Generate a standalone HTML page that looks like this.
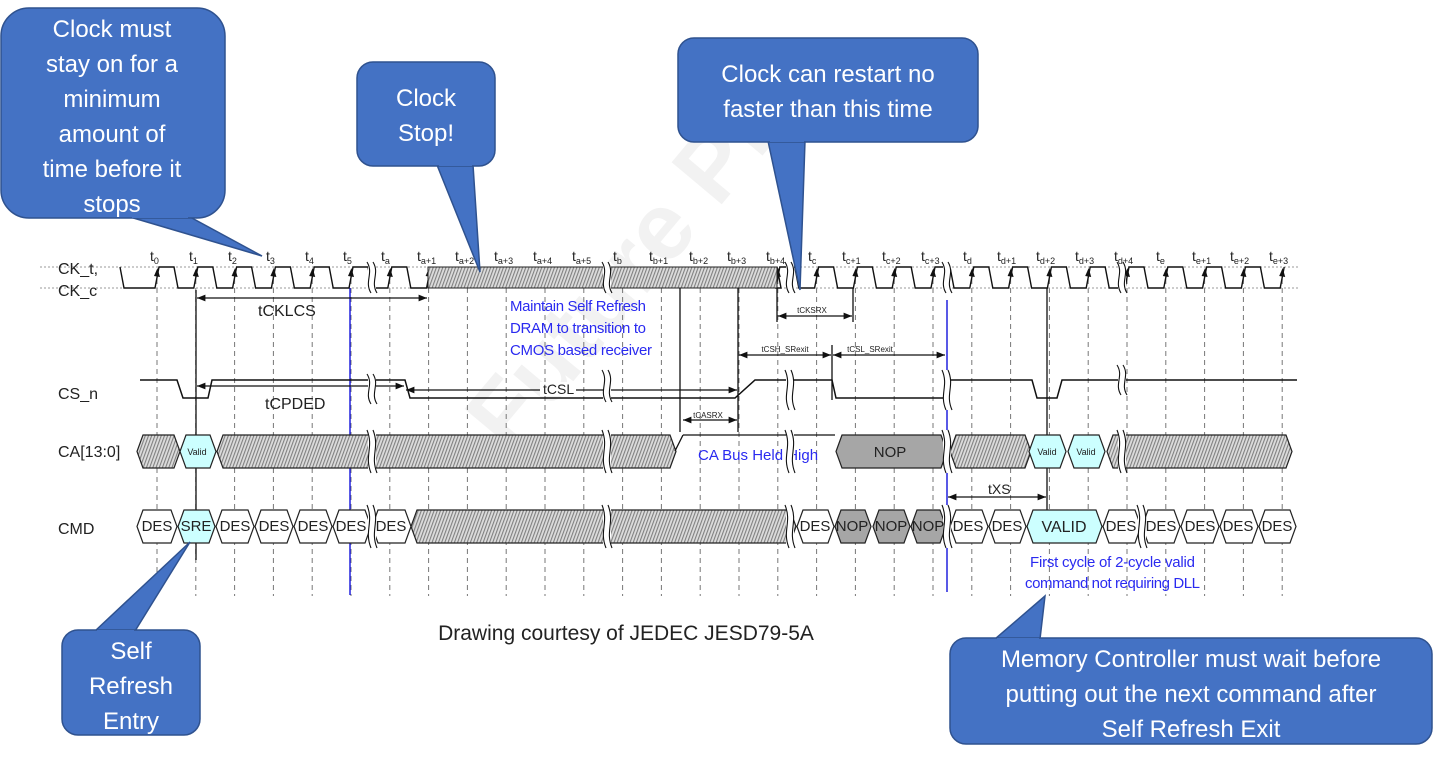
<!DOCTYPE html>
<html><head><meta charset="utf-8"><style>
html,body{margin:0;padding:0;background:#fff;}
svg{display:block;}
.lbl{font-family:"Liberation Sans",sans-serif;font-size:16px;fill:#222;}
.tl{font-family:"Liberation Sans",sans-serif;font-size:14px;fill:#222;}
.cw{font-family:"Liberation Sans",sans-serif;font-size:24px;fill:#fff;text-anchor:middle;}
.bl{font-family:"Liberation Sans",sans-serif;font-size:15px;fill:#2a2af0;}
.hx{font-family:"Liberation Sans",sans-serif;font-size:15px;fill:#222;text-anchor:middle;}
.sm{font-family:"Liberation Sans",sans-serif;font-size:8px;fill:#222;text-anchor:middle;}
</style></head><body>
<svg id="s" width="1434" height="762" viewBox="0 0 1434 762" xmlns="http://www.w3.org/2000/svg">
<defs>
<pattern id="h" width="3" height="6" patternUnits="userSpaceOnUse" patternTransform="rotate(20)">
<rect width="3" height="6" fill="#dcdcdc"/><rect width="1.1" height="6" fill="#808080"/>
</pattern>
<marker id="a" viewBox="0 0 10 10" refX="10" refY="5" markerWidth="7" markerHeight="7" orient="auto-start-reverse"><path d="M0,1 L10,5 L0,9 z" fill="#111"/></marker>
</defs>
<text x="480" y="470" transform="rotate(-50 480 430)" font-family="Liberation Sans,sans-serif" font-size="95" font-weight="bold" fill="#f2f2f2">Future Plu</text>
<g id="grid"></g>
<line x1="40" y1="267" x2="1300" y2="267" stroke="#999" stroke-dasharray="2,2"/>
<line x1="40" y1="288" x2="1300" y2="288" stroke="#999" stroke-dasharray="2,2"/>
<line x1="350" y1="288" x2="350" y2="595" stroke="#2222dd" stroke-width="1.5"/>
<line x1="947" y1="300" x2="947" y2="592" stroke="#2222dd" stroke-width="1.5"/>
<g id="clk"></g>
<rect x="428" y="267" width="349" height="21" fill="url(#h)" stroke="#222"/>
<g stroke="#111" stroke-width="1.3">
<line x1="196" y1="290" x2="196" y2="560"/>
<line x1="680" y1="288" x2="680" y2="432"/>
<line x1="738" y1="288" x2="738" y2="432"/>
<line x1="777" y1="288" x2="777" y2="322"/>
<line x1="853" y1="288" x2="853" y2="322"/>
<line x1="832" y1="345" x2="832" y2="400"/>
<line x1="1047" y1="288" x2="1047" y2="520"/>
</g>
<g stroke="#111" stroke-width="1.2" marker-start="url(#a)" marker-end="url(#a)">
<line x1="197" y1="298" x2="427" y2="298"/>
<line x1="778" y1="316" x2="852" y2="316"/>
<line x1="739" y1="355" x2="831" y2="355"/>
<line x1="833" y1="355" x2="945" y2="355"/>
<line x1="197" y1="386" x2="404" y2="386"/>
<line x1="406" y1="390" x2="737" y2="390"/>
<line x1="683" y1="420" x2="737" y2="420"/>
<line x1="948" y1="497" x2="1046" y2="497"/>
</g>
<rect x="540" y="382" width="36" height="14" fill="#fff"/>
<text x="258" y="316" class="lbl" font-size="17">tCKLCS</text>
<text x="812" y="313" class="sm">tCKSRX</text>
<text x="785" y="352" class="sm">tCSH_SRexit</text>
<text x="870" y="352" class="sm">tCSL_SRexit</text>
<text x="265" y="409" class="lbl" font-size="17">tCPDED</text>
<text x="543" y="394" class="tl" font-size="12">tCSL</text>
<text x="708" y="418" class="sm">tCASRX</text>
<text x="988" y="494" class="tl" font-size="12">tXS</text>
<text x="510" y="311" class="bl" textLength="136">Maintain Self Refresh</text>
<text x="510" y="333" class="bl" textLength="136">DRAM to transition to</text>
<text x="510" y="355" class="bl" textLength="142">CMOS based receiver</text>
<text x="698" y="460" class="bl">CA Bus Held High</text>
<text x="1030" y="567" class="bl" textLength="165">First cycle of 2-cycle valid</text>
<text x="1025" y="588" class="bl" textLength="175">command not requiring DLL</text>
<polyline fill="none" stroke="#111" stroke-width="1.5" points="140,380 177,380 183,398 208,398 212,380 405,380 410,398 735,398 755,380 832,380 836,398 947,398"/>
<polyline fill="none" stroke="#111" stroke-width="1.5" points="950,380 1032,380 1037,398 1057,398 1062,380 1297,380"/>
<g id="hex"></g>
<line x1="683" y1="435" x2="835" y2="435" stroke="#111" stroke-width="1.3"/>
<line x1="675" y1="451" x2="683" y2="435" stroke="#111" stroke-width="1.3"/>
<g id="brk"></g>
<text x="58" y="274" class="lbl">CK_t,</text>
<text x="58" y="296" class="lbl">CK_c</text>
<text x="58" y="399" class="lbl">CS_n</text>
<text x="58" y="457" class="lbl">CA[13:0]</text>
<text x="58" y="534" class="lbl">CMD</text>
<g class="tl">
<text x="150" y="261">t<tspan font-size="9" dy="3">0</tspan></text>
<text x="189" y="261">t<tspan font-size="9" dy="3">1</tspan></text>
<text x="228" y="261">t<tspan font-size="9" dy="3">2</tspan></text>
<text x="266" y="261">t<tspan font-size="9" dy="3">3</tspan></text>
<text x="305" y="261">t<tspan font-size="9" dy="3">4</tspan></text>
<text x="343" y="261">t<tspan font-size="9" dy="3">5</tspan></text>
<text x="381" y="261">t<tspan font-size="9" dy="3">a</tspan></text>
<text x="417" y="261">t<tspan font-size="9" dy="3">a+1</tspan></text>
<text x="455" y="261">t<tspan font-size="9" dy="3">a+2</tspan></text>
<text x="494" y="261">t<tspan font-size="9" dy="3">a+3</tspan></text>
<text x="533" y="261">t<tspan font-size="9" dy="3">a+4</tspan></text>
<text x="572" y="261">t<tspan font-size="9" dy="3">a+5</tspan></text>
<text x="613" y="261">t<tspan font-size="9" dy="3">b</tspan></text>
<text x="649" y="261">t<tspan font-size="9" dy="3">b+1</tspan></text>
<text x="689" y="261">t<tspan font-size="9" dy="3">b+2</tspan></text>
<text x="727" y="261">t<tspan font-size="9" dy="3">b+3</tspan></text>
<text x="766" y="261">t<tspan font-size="9" dy="3">b+4</tspan></text>
<text x="808" y="261">t<tspan font-size="9" dy="3">c</tspan></text>
<text x="842" y="261">t<tspan font-size="9" dy="3">c+1</tspan></text>
<text x="882" y="261">t<tspan font-size="9" dy="3">c+2</tspan></text>
<text x="921" y="261">t<tspan font-size="9" dy="3">c+3</tspan></text>
<text x="963" y="261">t<tspan font-size="9" dy="3">d</tspan></text>
<text x="997" y="261">t<tspan font-size="9" dy="3">d+1</tspan></text>
<text x="1036" y="261">t<tspan font-size="9" dy="3">d+2</tspan></text>
<text x="1075" y="261">t<tspan font-size="9" dy="3">d+3</tspan></text>
<text x="1114" y="261">t<tspan font-size="9" dy="3">d+4</tspan></text>
<text x="1156" y="261">t<tspan font-size="9" dy="3">e</tspan></text>
<text x="1192" y="261">t<tspan font-size="9" dy="3">e+1</tspan></text>
<text x="1230" y="261">t<tspan font-size="9" dy="3">e+2</tspan></text>
<text x="1269" y="261">t<tspan font-size="9" dy="3">e+3</tspan></text>
</g>
<g class="hx">
<text x="157" y="531">DES</text><text x="196" y="531">SRE</text><text x="235" y="531">DES</text><text x="274" y="531">DES</text><text x="313" y="531">DES</text><text x="351" y="531">DES</text><text x="391" y="531">DES</text>
<text x="815" y="531">DES</text><text x="852" y="531">NOP</text><text x="891" y="531">NOP</text><text x="928" y="531">NOP</text>
<text x="968" y="531">DES</text><text x="1007" y="531">DES</text><text x="1064" y="532" font-size="16">VALID</text>
<text x="1121" y="531">DES</text><text x="1161" y="531">DES</text><text x="1200" y="531">DES</text><text x="1238" y="531">DES</text><text x="1277" y="531">DES</text>
<text x="890" y="457" font-size="15">NOP</text>
<text x="197" y="455" font-size="9">Valid</text><text x="1047" y="455" font-size="9">Valid</text><text x="1086" y="455" font-size="9">Valid</text>
</g>
<text x="626" y="640" font-family="Liberation Sans,sans-serif" font-size="21" fill="#222" text-anchor="middle">Drawing courtesy of JEDEC JESD79-5A</text>
<g fill="#4472c4" stroke="#2f528f" stroke-width="1.5">
<path d="M130,217 L262,256 L190,217 Z"/><rect x="1" y="8" width="224" height="210" rx="28"/>
<path d="M437,165 L480,272 L473,165 Z"/><rect x="357" y="62" width="138" height="104" rx="16"/>
<path d="M768,141 L800,290 L805,141 Z"/><rect x="678" y="38" width="300" height="104" rx="16"/>
<path d="M95,631 L190,542 L135,631 Z"/><rect x="62" y="630" width="138" height="105" rx="16"/>
<path d="M995,639 L1045,596 L1040,639 Z"/><rect x="950" y="638" width="482" height="106" rx="16"/>
</g>
<g fill="#4472c4"><rect x="132" y="210" width="56" height="8"/><rect x="439" y="158" width="33" height="8"/><rect x="770" y="133" width="34" height="9"/><rect x="97" y="630" width="37" height="8"/><rect x="997" y="638" width="42" height="8"/></g>
<g class="cw">
<text x="112" y="37">Clock must</text><text x="112" y="72">stay on for a</text><text x="112" y="107">minimum</text><text x="112" y="142">amount of</text><text x="112" y="177">time before it</text><text x="112" y="212">stops</text>
<text x="426" y="106">Clock</text><text x="426" y="141">Stop!</text>
<text x="828" y="82">Clock can restart no</text><text x="828" y="117">faster than this time</text>
<text x="131" y="659">Self</text><text x="131" y="694">Refresh</text><text x="131" y="729">Entry</text>
<text x="1191" y="667">Memory Controller must wait before</text><text x="1191" y="702">putting out the next command after</text><text x="1191" y="737">Self Refresh Exit</text>
</g>
</svg>
<script>
var NS="http://www.w3.org/2000/svg";
function el(p,t,a){var e=document.createElementNS(NS,t);for(var k in a)e.setAttribute(k,a[k]);p.appendChild(e);return e;}
var G=function(i){return 157+38.8*i;};
var grid=document.getElementById('grid');
for(var i=0;i<30;i++)el(grid,'line',{x1:G(i),y1:270,x2:G(i),y2:596,stroke:'#777','stroke-dasharray':'5,4','stroke-width':1});
var clk=document.getElementById('clk');
function clock(i0,i1,x0,x1){var pts=[[x0,267],[x0+4,288]];for(var i=i0;i<=i1;i++){var g=G(i);pts.push([g-2,288],[g+2,267]);if(g+17<x1){pts.push([g+17,267],[g+21,288]);}el(clk,'path',{d:'M'+(g-3)+',276 L'+(g+0.5)+',268 L'+(g+3)+',277 Z',fill:'#111'});}
el(clk,'polyline',{points:pts.map(function(p){return p.join(',')}).join(' '),fill:'none',stroke:'#111','stroke-width':1.4});}
clock(0,7,120,428);
clock(16,29,777,1297);
var hx=document.getElementById('hex');
function hex(a,b,t,bo,f){var m=(t+bo)/2;el(hx,'polygon',{points:[a,m,a+6,t,b-6,t,b,m,b-6,bo,a+6,bo].join(' '),fill:f,stroke:'#222','stroke-width':1.2});}
var H='url(#h)';
hex(137,180,435,468,H);hex(180,216,435,468,'#ccffff');hex(217,676,435,468,H);hex(836,947,435,468,'#a6a6a6');
hex(950,1031,435,468,H);hex(1029,1066,435,468,'#ccffff');hex(1068,1105,435,468,'#ccffff');hex(1107,1292,435,468,H);
var c=[[137,177,'#fff'],[178,215,'#ccffff'],[216,254,'#fff'],[255,293,'#fff'],[294,332,'#fff'],[333,371,'#fff'],[372,411,'#fff'],[411,796,H],[797,834,'#fff'],[835,871,'#a6a6a6'],[873,910,'#a6a6a6'],[911,946,'#a6a6a6'],[950,988,'#fff'],[989,1026,'#fff'],[1027,1102,'#ccffff'],[1103,1141,'#fff'],[1142,1180,'#fff'],[1181,1219,'#fff'],[1220,1258,'#fff'],[1259,1296,'#fff']];
c.forEach(function(q){hex(q[0],q[1],510,543,q[2]);});
var br=document.getElementById('brk');
function brk(x,y0,y1){el(br,'rect',{x:x-4,y:y0,width:8,height:y1-y0,fill:'#fff'});
for(var d=-3;d<=3;d+=6){var m=(y0+y1)/2;el(br,'path',{d:'M'+(x+d-2)+','+y0+' C'+(x+d+5)+','+(m-4)+' '+(x+d-5)+','+(m+4)+' '+(x+d+2)+','+y1,fill:'none',stroke:'#111','stroke-width':1.1});}}
[[372,262,293],[372,374,404],[372,430,473],[372,505,548],[607,262,293],[607,370,402],[607,430,473],[607,505,548],[790,262,293],[790,370,410],[790,430,473],[790,505,548],[947,262,293],[947,370,410],[947,430,473],[947,505,548],[1122,262,293],[1122,365,395],[1122,430,473],[1142,505,548]].forEach(function(b){brk(b[0],b[1],b[2]);});
</script>
</body></html>
